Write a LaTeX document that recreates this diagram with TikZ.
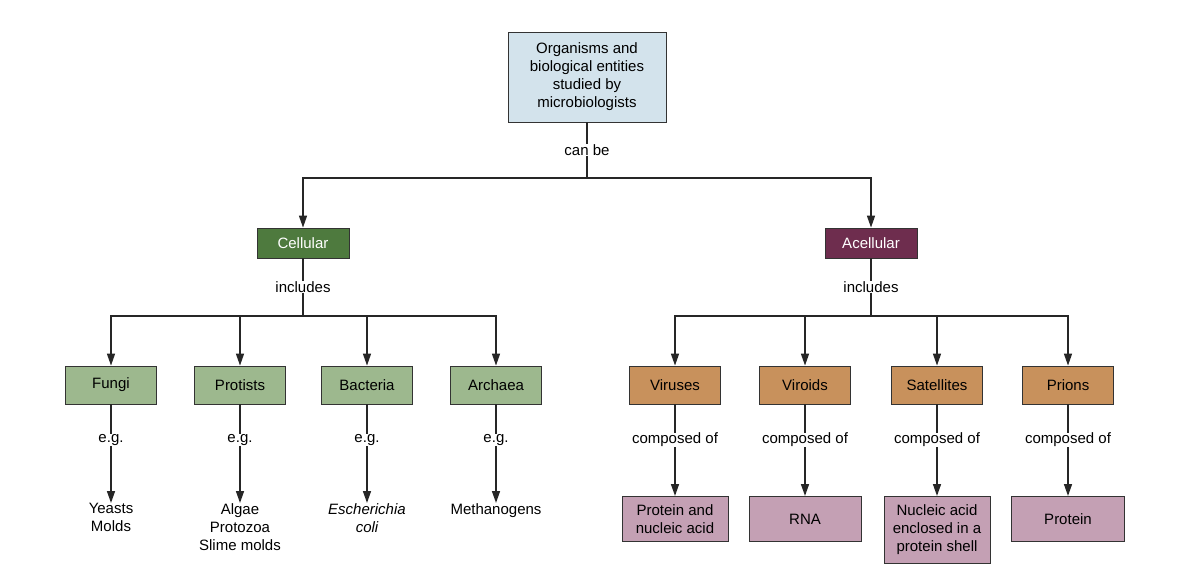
\documentclass[tikz,border=0pt]{standalone}
\usepackage{fontspec}
\setmainfont{Liberation Sans}
\usetikzlibrary{arrows.meta}
\definecolor{topc}{HTML}{D3E3EC}
\definecolor{cellc}{HTML}{4E7A3E}
\definecolor{acelc}{HTML}{6E2D4E}
\definecolor{lgreen}{HTML}{9DB88E}
\definecolor{orng}{HTML}{C8915C}
\definecolor{pink}{HTML}{C4A0B4}
\begin{document}
\begin{tikzpicture}[x=1pt,y=-1pt,
  every node/.style={font=\fontsize{15}{18}\selectfont,align=center,inner sep=0pt},
  bx/.style={draw=black!80,line width=0.8pt,minimum height=#1},
  ln/.style={line width=1.5pt,black!85},
  ar/.style={ln,-{Triangle[length=12pt,width=8pt]}}]
\useasboundingbox (0,0) rectangle (1200,575);
\node[bx=90,fill=topc,minimum width=158] (top) at (587,77) {Organisms and\\biological entities\\studied by\\microbiologists};
\node (canbe) at (587,150) {can be};
\coordinate (j0) at (587,178);
\node[bx=30,fill=cellc,minimum width=92,text=white] (cell) at (303,243) {Cellular};
\node[bx=30,fill=acelc,minimum width=92,text=white] (acel) at (871,243) {Acellular};
\draw[ln] (top) -- (canbe);
\draw[ln] (canbe) -- (j0);
\draw[ar] (j0) -| (cell);
\draw[ar] (j0) -| (acel);
\node (inc1) at (303,287) {includes};
\node (inc2) at (871,287) {includes};
\draw[ln] (cell) -- (inc1); \draw[ln] (acel) -- (inc2);
\coordinate (j1) at (303,316); \coordinate (j2) at (871,316);
\draw[ln] (inc1) -- (j1); \draw[ln] (inc2) -- (j2);
\foreach \n/\x/\t in {a/111/Fungi,b/240/Protists,c/367/Bacteria,d/496/Archaea}{
  \node[bx=38,fill=lgreen,minimum width=91] (\n) at (\x,385) {\t};
  \draw[ar] (j1) -| (\n);
  \node (eg\n) at (\x,440) {e.g.};
  \draw[ln] (\n) -- (eg\n);
}
\node[anchor=north] (ra) at (111,503) {Yeasts\\Molds};
\node[anchor=north] (rb) at (240,503) {Algae\\Protozoa\\Slime molds};
\node[anchor=north] (rc) at (367,503) {\itshape Escherichia\\\itshape coli};
\node[anchor=north] (rd) at (496,503) {Methanogens};
\foreach \n in {a,b,c,d}{\draw[ar] (eg\n) -- (r\n.north);}
\foreach \n/\x/\t in {e/675/Viruses,f/805/Viroids,g/937/Satellites,h/1068/Prions}{
  \node[bx=38,fill=orng,minimum width=91] (\n) at (\x,385) {\t};
  \draw[ar] (j2) -| (\n);
  \node (co\n) at (\x,440) {composed of};
  \draw[ln] (\n) -- (co\n);
}
\node[bx=45,fill=pink,minimum width=106,anchor=north] (re) at (675,496) {Protein and\\nucleic acid};
\node[bx=45,fill=pink,minimum width=112,anchor=north] (rf) at (805,496) {RNA};
\node[bx=67,fill=pink,minimum width=106,anchor=north] (rg) at (937,496) {Nucleic acid\\enclosed in a\\protein shell};
\node[bx=45,fill=pink,minimum width=113,anchor=north] (rh) at (1068,496) {Protein};
\foreach \n in {e,f,g,h}{\draw[ar] (co\n) -- (r\n.north);}
\end{tikzpicture}
\end{document}
